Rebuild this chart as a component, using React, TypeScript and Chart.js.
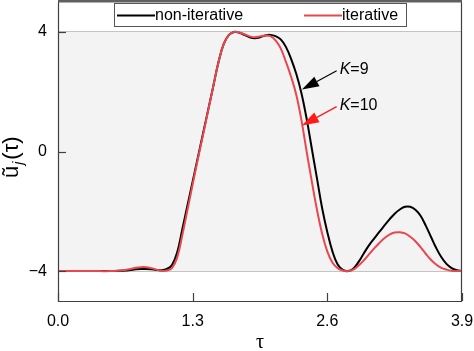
import React, { useEffect, useRef } from "react";
import { Chart, registerables } from "chart.js";

Chart.register(...registerables);

// ---- data ----
const tau = [
  0, 0.2, 0.4, 0.5,
  0.6, 0.65, 0.7, 0.75, 0.8, 0.85, 0.9, 0.95, 1.0,
  1.05, 1.1, 1.15, 1.2, 1.25, 1.3, 1.35, 1.4, 1.45, 1.5,
  1.55, 1.6, 1.65, 1.7, 1.75, 1.8, 1.85, 1.9, 1.95, 2.0,
  2.05, 2.1, 2.15, 2.2, 2.25, 2.3, 2.35, 2.4, 2.45, 2.5,
  2.55, 2.6, 2.65, 2.7, 2.75, 2.8, 2.85, 2.9, 2.95, 3.0,
  3.05, 3.1, 3.15, 3.2, 3.25, 3.3, 3.35, 3.4, 3.45, 3.5,
  3.55, 3.6, 3.65, 3.7, 3.75, 3.8, 3.85, 3.9,
];

const nonIterative = [
  -4, -4, -4, -4,
  -3.99, -3.98, -3.96, -3.94, -3.93, -3.93, -3.94, -3.96, -3.97,
  -3.93, -3.8, -3.38, -2.6, -1.8, -1.0, -0.2, 0.6, 1.4, 2.2,
  3.0, 3.6, 3.9, 4.0, 3.97, 3.9, 3.82, 3.79, 3.82, 3.88,
  3.9, 3.86, 3.75, 3.5, 3.1, 2.6, 1.95, 1.1, 0.1, -0.9,
  -1.9, -2.7, -3.35, -3.78, -3.96, -4.0, -3.92, -3.7, -3.42, -3.15,
  -2.92, -2.7, -2.48, -2.27, -2.08, -1.94, -1.85, -1.85, -1.95, -2.15,
  -2.48, -2.85, -3.22, -3.53, -3.76, -3.9, -3.97, -4.0,
];

const iterative = [
  -4, -4, -4, -4,
  -3.98, -3.96, -3.93, -3.89, -3.87, -3.87, -3.9, -3.95, -3.99,
  -3.98, -3.9, -3.55, -2.8, -1.95, -1.1, -0.25, 0.55, 1.38, 2.2,
  3.0, 3.6, 3.9, 4.0, 3.98, 3.92, 3.85, 3.82, 3.85, 3.88,
  3.86, 3.72, 3.45, 3.0, 2.5, 1.9, 1.05, 0.0, -1.0, -1.95,
  -2.75, -3.35, -3.72, -3.9, -3.98, -4.0, -3.95, -3.82, -3.65, -3.45,
  -3.25, -3.07, -2.9, -2.78, -2.71, -2.7, -2.74, -2.85, -3.0, -3.2,
  -3.42, -3.62, -3.78, -3.89, -3.95, -3.99, -4.0, -4.0,
];

const seriesLabels = ["non-iterative", "iterative"];
const seriesColors = ["#000000", "#e8474f"];
const xTicks = [0, 1.3, 2.6, 3.9];
const yTicks = [-4, 0, 4];
const bandLimits = [-4, 4];

const FONT = "'Liberation Sans', Arial, sans-serif";

const decor = {
  id: "decor",
  beforeDraw(chart: any) {
    const { ctx, chartArea: a, scales } = chart;
    const y = scales.y;
    const top = y.getPixelForValue(bandLimits[1]);
    const bot = y.getPixelForValue(bandLimits[0]);
    ctx.save();
    ctx.fillStyle = "#f3f3f3";
    ctx.fillRect(a.left, top, a.right - a.left, bot - top);
    ctx.restore();
  },
  afterDraw(chart: any) {
    const { ctx, chartArea: a, scales } = chart;
    const x = scales.x;
    const y = scales.y;
    ctx.save();
    // frame
    ctx.strokeStyle = "#404040";
    ctx.lineWidth = 1.2;
    ctx.beginPath();
    ctx.moveTo(a.left + 0.5, a.top);
    ctx.lineTo(a.left + 0.5, a.bottom + 0.5);
    ctx.lineTo(a.right - 0.5, a.bottom + 0.5);
    ctx.lineTo(a.right - 0.5, a.top);
    ctx.stroke();
    ctx.strokeStyle = "#606060";
    ctx.lineWidth = 2.5;
    ctx.beginPath();
    ctx.moveTo(a.left, a.top - 0.8);
    ctx.lineTo(a.right, a.top - 0.8);
    ctx.stroke();

    // inward ticks
    ctx.strokeStyle = "#404040";
    ctx.lineWidth = 1.2;
    x.ticks.forEach((t: any) => {
      const px = Math.round(x.getPixelForValue(t.value)) + 0.5;
      ctx.beginPath();
      ctx.moveTo(px, a.bottom);
      ctx.lineTo(px, a.bottom - 8);
      ctx.stroke();
    });
    y.ticks.forEach((t: any) => {
      const py = Math.round(y.getPixelForValue(t.value)) + 0.5;
      ctx.beginPath();
      ctx.moveTo(a.left, py);
      ctx.lineTo(a.left + 8, py);
      ctx.stroke();
    });

    // legend
    const cx = (a.left + a.right) / 2;
    const bw = 292;
    const bl = cx - bw / 2;
    const bt = a.top + 1;
    const bh = 23;
    ctx.fillStyle = "#ffffff";
    ctx.fillRect(bl, bt, bw, bh);
    ctx.strokeStyle = "#555555";
    ctx.lineWidth = 1;
    ctx.strokeRect(Math.round(bl) + 0.5, Math.round(bt) + 0.5, bw, bh);
    const my = bt + bh / 2 + 1;
    const starts = [bl + 3, bl + 190];
    ctx.font = `16px ${FONT}`;
    ctx.textBaseline = "middle";
    ctx.textAlign = "left";
    chart.data.datasets.forEach((ds: any, i: number) => {
      ctx.strokeStyle = ds.borderColor;
      ctx.lineWidth = 2;
      ctx.beginPath();
      ctx.moveTo(starts[i], my);
      ctx.lineTo(starts[i] + 38, my);
      ctx.stroke();
      ctx.fillStyle = "#000";
      ctx.fillText(ds.label, starts[i] + 38, my);
    });

    // annotations
    const anns = [
      { tip: [2.355, 2.07], tail: [2.69, 2.7], num: "=9", color: "#000000", lineColor: "#000000" },
      { tip: [2.355, 0.87], tail: [2.69, 1.5], num: "=10", color: "#ff1a1a", lineColor: "#ff1a1a" },
    ];
    anns.forEach((an) => {
      const tx = x.getPixelForValue(an.tip[0]);
      const ty = y.getPixelForValue(an.tip[1]);
      const sx = x.getPixelForValue(an.tail[0]);
      const sy = y.getPixelForValue(an.tail[1]);
      const ang = Math.atan2(ty - sy, tx - sx);
      const hl = 17;
      const hw = 5.5;
      const bx = tx - hl * Math.cos(ang);
      const by = ty - hl * Math.sin(ang);
      ctx.strokeStyle = an.lineColor;
      ctx.lineWidth = 1.2;
      ctx.beginPath();
      ctx.moveTo(sx, sy);
      ctx.lineTo(bx, by);
      ctx.stroke();
      ctx.fillStyle = an.color;
      ctx.beginPath();
      ctx.moveTo(tx, ty);
      ctx.lineTo(bx + hw * Math.sin(ang), by - hw * Math.cos(ang));
      ctx.lineTo(bx - hw * Math.sin(ang), by + hw * Math.cos(ang));
      ctx.closePath();
      ctx.fill();
      // label
      ctx.fillStyle = "#000";
      ctx.textBaseline = "middle";
      ctx.font = `italic 16px ${FONT}`;
      const lx = sx + 3;
      const ly = sy - 1;
      ctx.fillText("K", lx, ly);
      const kw = ctx.measureText("K").width;
      ctx.font = `16px ${FONT}`;
      ctx.fillText(an.num, lx + kw, ly);
    });

    // y axis title
    ctx.translate(18, 178);
    ctx.rotate(-Math.PI / 2);
    ctx.fillStyle = "#000";
    ctx.textBaseline = "alphabetic";
    ctx.textAlign = "left";
    ctx.font = `22px ${FONT}`;
    ctx.fillText("\u0169", 0, 0);
    let w = ctx.measureText("\u0169").width;
    ctx.font = `italic 14px ${FONT}`;
    ctx.fillText("j", w + 1, 5);
    w += ctx.measureText("j").width + 3;
    ctx.font = `22px ${FONT}`;
    ctx.fillText("(\u03c4)", w, 0);
    ctx.restore();
  },
};

export default function App() {
  const ref = useRef<HTMLCanvasElement>(null);
  useEffect(() => {
    const chart = new Chart(ref.current as HTMLCanvasElement, {
      type: "line",
      data: {
        datasets: [
          {
            label: seriesLabels[0],
            data: tau.map((t, i) => ({ x: t, y: nonIterative[i] })),
            borderColor: seriesColors[0],
            borderWidth: 2,
            pointRadius: 0,
            tension: 0.4,
            order: 1,
          },
          {
            label: seriesLabels[1],
            data: tau.map((t, i) => ({ x: t, y: iterative[i] })),
            borderColor: seriesColors[1],
            borderWidth: 2,
            pointRadius: 0,
            tension: 0.4,
            order: 0,
          },
        ],
      },
      options: {
        animation: false,
        responsive: false,
        layout: { padding: { top: 2, right: 12, left: 0, bottom: 0 } },
        plugins: { legend: { display: false }, tooltip: { enabled: false } },
        scales: {
          x: {
            type: "linear",
            min: 0,
            max: 3.9,
            afterBuildTicks: (s: any) => {
              s.ticks = xTicks.map((v) => ({ value: v }));
            },
            afterFit: (s: any) => {
              s.height = 50;
              s.paddingLeft = 0;
              s.paddingRight = 0;
            },
            grid: { display: false, drawTicks: false },
            border: { display: false },
            ticks: {
              padding: 11,
              color: "#000",
              font: { family: FONT, size: 16 },
              maxRotation: 0,
              autoSkip: false,
              callback: (v: any) => Number(v).toFixed(1),
            },
            title: {
              display: true,
              text: "\u03c4",
              color: "#000",
              font: { family: "'Liberation Serif', serif", size: 20, lineHeight: 1 },
              padding: { top: 0, bottom: -2 },
            },
          },
          y: {
            min: -5,
            max: 5,
            afterBuildTicks: (s: any) => {
              s.ticks = yTicks.map((v) => ({ value: v }));
            },
            afterFit: (s: any) => {
              s.width = 58;
              s.paddingTop = 0;
              s.paddingBottom = 0;
            },
            grid: {
              drawTicks: false,
              lineWidth: 1,
              color: (c: any) => (c.tick && c.tick.value === 0 ? "rgba(0,0,0,0)" : "#c4c4c4"),
            },
            border: { display: false },
            ticks: {
              padding: 11,
              color: "#000",
              font: { family: FONT, size: 16 },
              callback: (v: any) => (Number(v) < 0 ? "\u2212" + Math.abs(Number(v)) : String(v)),
            },
          },
        },
      },
      plugins: [decor],
    } as any);
    return () => chart.destroy();
  }, []);
  return (
    <div style={{ position: "fixed", left: 0, top: 0, width: 474, height: 351, background: "#fff" }}>
      <canvas ref={ref} width={474} height={351} />
    </div>
  );
}
